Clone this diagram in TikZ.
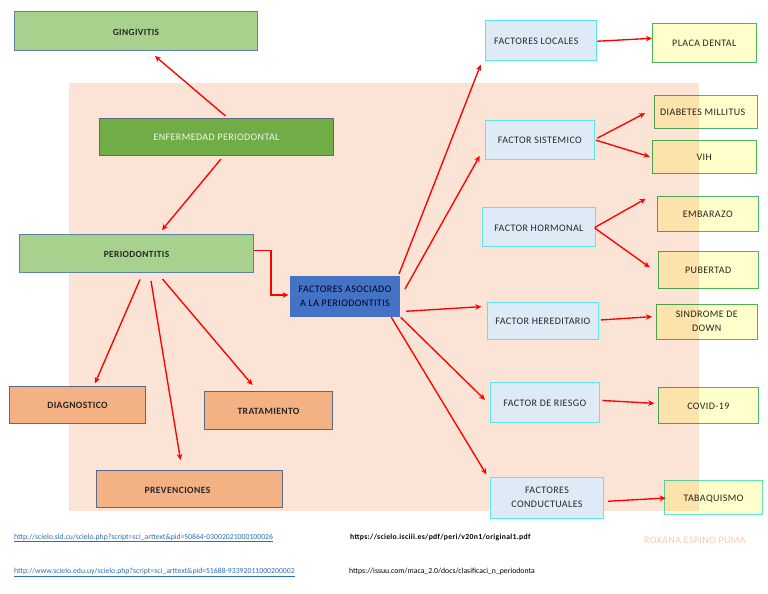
\documentclass[tikz,border=0pt]{standalone}
\usepackage{fontspec}
\setmainfont{Carlito}
\newfontfamily\spaced{Carlito}[LetterSpace=4]
\usetikzlibrary{arrows.meta,calc}
\definecolor{bgpeach}{HTML}{FBE3D6}
\definecolor{lightgreen}{HTML}{A9D18E}
\definecolor{darkgreen}{HTML}{70AD47}
\definecolor{midblue}{HTML}{4472C4}
\definecolor{orangebox}{HTML}{F4B183}
\definecolor{paleblue}{HTML}{DEEBF7}
\definecolor{paleyellow}{HTML}{FFFFCC}
\definecolor{edgeblue}{HTML}{5B83A6}
\definecolor{edgeslate}{HTML}{5A6A85}
\definecolor{edgecyan}{HTML}{5CE6EA}
\definecolor{edgegreen}{HTML}{4DB56F}
\definecolor{inkdark}{HTML}{262626}
\definecolor{linkblue}{HTML}{2F6DB5}
\tikzset{
  box/.style={draw,inner sep=0pt,outer sep=0pt,align=center,line width=1pt,text=inkdark,
    font=\spaced\fontsize{10}{14}\selectfont},
  oneline/.style={text height=8pt,text depth=0pt},
  greenbox/.style={box,oneline,fill=lightgreen,draw=edgeblue,font=\spaced\bfseries\fontsize{9.4}{14}\selectfont},
  rootbox/.style={box,oneline,fill=darkgreen,draw=edgeslate,text=white!90!darkgreen},
  bluebox/.style={box,fill=midblue,draw=midblue,text=black!85!blue},
  orangebx/.style={box,oneline,fill=orangebox,draw=edgeslate,font=\spaced\bfseries\fontsize{9.6}{14}\selectfont},
  factorbox/.style={box,fill=paleblue,draw=edgecyan},
  yellowbox/.style={box,fill=paleyellow,draw=edgegreen},
  arr/.style={draw=red,line width=1.35pt,-{Stealth[length=6pt,width=5.5pt]}},
  linktext/.style={anchor=base west,inner sep=0pt,text=linkblue,font=\fontsize{7.75}{8}\selectfont},
  plaintext/.style={anchor=base west,inner sep=0pt,text=black,font=\fontsize{7.75}{8}\selectfont}
}
\begin{document}
\begin{tikzpicture}[x=1pt,y=-1pt]
\useasboundingbox (0,0) rectangle (768,594);
% background panel
\fill[bgpeach] (69,83) rectangle (699,511);

% left side
\node[greenbox,minimum width=243,minimum height=39] (ging) at (136,31.5) {GINGIVITIS};
\node[rootbox,minimum width=234,minimum height=37] (enf) at (216.5,136.5) {ENFERMEDAD PERIODONTAL};
\node[greenbox,minimum width=234,minimum height=38.5] (perio) at (136.5,253.25) {PERIODONTITIS};
\node[bluebox,minimum width=109,minimum height=40] (aso) at (345,296) {FACTORES ASOCIADO\\A LA PERIODONTITIS};
\node[orangebx,minimum width=136,minimum height=37] (diag) at (77.5,404.5) {DIAGNOSTICO};
\node[orangebx,minimum width=128,minimum height=38] (trat) at (268.5,410) {TRATAMIENTO};
\node[orangebx,minimum width=186,minimum height=37.3] (prev) at (189.5,489.3) {\hspace*{-24pt}PREVENCIONES};

% factors
\node[factorbox,oneline,minimum width=110.7,minimum height=40.5] (loc) at (541.3,40.75) {\hspace*{-10pt}FACTORES LOCALES};
\node[factorbox,oneline,minimum width=109.7,minimum height=38.3] (sis) at (539.85,139.85) {FACTOR SISTEMICO};
\node[factorbox,oneline,minimum width=113.7,minimum height=39] (hor) at (538.85,227.2) {FACTOR HORMONAL};
\node[factorbox,oneline,minimum width=111.7,minimum height=37.3] (her) at (542.85,320.65) {FACTOR HEREDITARIO};
\node[factorbox,oneline,minimum width=109,minimum height=40.3] (rie) at (544.8,402.15) {FACTOR DE RIESGO};
\node[factorbox,minimum width=113.4,minimum height=41.3] (con) at (547,497.65) {FACTORES\\CONDUCTUALES};

% yellow boxes let the panel show through
\begin{scope}[blend mode=multiply]
\node[yellowbox,oneline,minimum width=104.5,minimum height=39] (pla) at (704.25,43) {PLACA DENTAL};
\node[yellowbox,oneline,minimum width=103.5,minimum height=32.3] (dia) at (705.75,111.85) {\hspace*{-6pt}DIABETES MILLITUS};
\node[yellowbox,oneline,minimum width=104.5,minimum height=33] (vih) at (704.25,156.5) {VIH};
\node[yellowbox,oneline,minimum width=101,minimum height=34.3] (emb) at (707.8,213.85) {EMBARAZO};
\node[yellowbox,oneline,minimum width=100.3,minimum height=37.7] (pub) at (708.15,269.85) {PUBERTAD};
\node[yellowbox,minimum width=101.5,minimum height=35.3] (sin) at (706.75,321.65) {SINDROME DE\\DOWN};
\node[yellowbox,oneline,minimum width=100,minimum height=36.3] (cov) at (708.3,405.15) {COVID-19};
\node[yellowbox,oneline,draw=edgecyan,minimum width=98.4,minimum height=34] (tab) at (713.5,497.3) {TABAQUISMO};
\end{scope}

% connectors, left part
\draw[arr] ($(enf.north)+(9,-2)$) -- ($(ging.south)+(19,5)$);
\draw[arr] ($(enf.south)+(4.5,4)$) -- ($(perio.north)+(25.5,-4)$);
\draw[arr] ($(perio.east)+(0,-3)$) -- ++(17.5,0) |- ($(aso.west)+(-2,-1)$);
\draw[arr] ($(perio.south)+(3.5,7)$) -- ($(diag.north)+(17.5,-2.7)$);
\draw[arr] ($(perio.south)+(14.5,8.5)$) -- ($(prev.north)+(-9,-10.7)$);
\draw[arr] ($(perio.south)+(26,6.5)$) -- ($(trat.north)+(-16,-6)$);

% connectors, central node to factors
\draw[arr] ($(aso.north)+(54,-2)$) -- ($(loc.south)+(-60.6,3.7)$);
\draw[arr] ($(aso.east)+(5.5,-7)$) -- ($(sis.west)+(-5.3,16)$);
\draw[arr] ($(aso.east)+(6.5,15.3)$) -- ($(her.west)+(-5.7,-14)$);
\draw[arr] ($(aso.east)+(1.2,21.3)$) -- ($(rie.west)+(-5.3,-2.3)$);
\draw[arr] ($(aso.south)+(46.3,1.3)$) -- ($(con.north)+(-60.7,-2.7)$);

% connectors, factors to yellow boxes
\draw[arr] ($(loc.east)+(.6,.5)$) -- ($(pla.west)+(0,-4.7)$);
\draw[arr] ($(sis.east)+(2.6,-1.7)$) -- ($(dia.west)+(-9,1.3)$);
\draw[arr] ($(sis.east)+(1.3,.3)$) -- ($(vih.west)+(-2.3,.2)$);
\draw[arr] ($(hor.east)+(-1,.3)$) -- ($(emb.west)+(-11.6,-15.1)$);
\draw[arr] ($(hor.east)+(-1,.8)$) -- ($(pub.west)+(-8.3,-2.5)$);
\draw[arr] ($(her.east)+(2.3,-.7)$) -- ($(sin.west)+(-4,-5)$);
\draw[arr] ($(rie.east)+(3,-1.7)$) -- ($(cov.west)+(-4,-1.8)$);
\draw[arr] ($(con.east)+(4.3,3.6)$) -- ($(tab.west)+(1.4,.7)$);

% references
\node[linktext] (ref1) at (14,539) {\underline{http://scielo.sld.cu/scielo.php?script=sci\_arttext\&pid=S0864-03002021000100026}};
\node[linktext] (ref2) at (14,573.5) {\underline{http://www.scielo.edu.uy/scielo.php?script=sci\_arttext\&pid=S1688-93392011000200002}};
\node[plaintext,font=\spaced\bfseries\fontsize{7.7}{8}\selectfont] (ref3) at (350,539) {https://scielo.isciii.es/pdf/peri/v20n1/original1.pdf};
\node[plaintext] (ref4) at (349,573.5) {https://issuu.com/maca\_2.0/docs/clasificaci\_n\_periodonta};
\node[anchor=base west,inner sep=0pt,text=orangebox!70!white,font=\spaced\fontsize{10}{10}\selectfont] (autor) at (644,543) {ROXANA ESPINO PUMA};
\end{tikzpicture}
\end{document}
